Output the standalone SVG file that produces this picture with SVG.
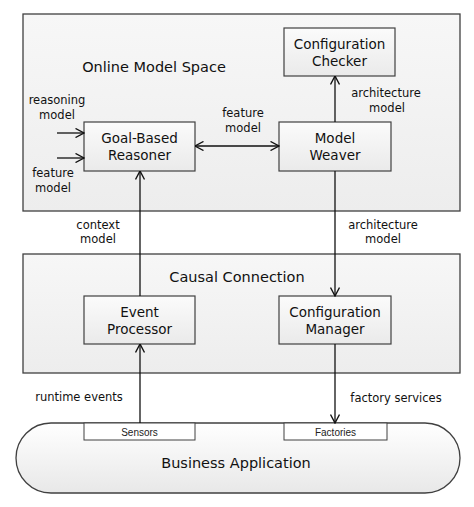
<svg xmlns="http://www.w3.org/2000/svg" width="474" height="507" viewBox="0 0 474 507">
<style>
.frame{stroke:#404040;stroke-width:1.3;fill:url(#gFrame)}
.node{stroke:#404040;stroke-width:1.2;fill:url(#gNode)}
.port{stroke:#404040;stroke-width:1;fill:#ffffff}
.t{font-family:"DejaVu Sans",Verdana,sans-serif;fill:#111;text-anchor:middle}
.title{font-size:14.5px}
.nt{font-size:13.5px}
.lb{font-size:11.5px}
.sm{font-family:"Liberation Sans",Arial,sans-serif;font-size:10px;fill:#222;text-anchor:middle}
.c{stroke:#111;stroke-width:1.3;fill:none}
</style>
<defs>
<linearGradient id="gFrame" x1="0" y1="0" x2="0" y2="1">
<stop offset="0" stop-color="#f7f7f7"/><stop offset="1" stop-color="#ededed"/>
</linearGradient>
<linearGradient id="gNode" x1="0" y1="0" x2="0" y2="1">
<stop offset="0" stop-color="#fbfbfb"/><stop offset="1" stop-color="#eaeaea"/>
</linearGradient>
<linearGradient id="gPill" x1="0" y1="0" x2="0" y2="1">
<stop offset="0" stop-color="#ffffff"/><stop offset="1" stop-color="#e8e8e8"/>
</linearGradient>
<marker id="arr" viewBox="0 0 10 10" refX="9.5" refY="5" markerWidth="10" markerHeight="10" markerUnits="userSpaceOnUse" orient="auto-start-reverse">
<path d="M1,0.5 L9.5,5 L1,9.5" fill="none" stroke="#111" stroke-width="1.4"/>
</marker>
</defs>

<g id="online-model-space">
<rect class="frame" x="23" y="14" width="437" height="197"/>
<text class="t title" x="154" y="72">Online Model Space</text>
</g>

<g id="causal-connection">
<rect class="frame" x="23" y="254" width="437" height="119"/>
<text class="t title" x="237" y="282">Causal Connection</text>
</g>

<g id="business-application">
<rect x="16" y="423" width="444" height="70" rx="35" ry="35" fill="url(#gPill)" stroke="#404040" stroke-width="1.3"/>
<text class="t title" x="236" y="468">Business Application</text>
</g>

<g id="sensors">
<rect class="port" x="84" y="423" width="111" height="17"/>
<text class="sm" x="139.5" y="435.5">Sensors</text>
</g>

<g id="factories">
<rect class="port" x="284" y="423" width="103" height="17"/>
<text class="sm" x="335.5" y="435.5">Factories</text>
</g>

<g id="configuration-checker">
<rect class="node" x="284" y="28" width="111" height="48"/>
<text class="t nt" x="339.5" y="49">Configuration</text>
<text class="t nt" x="339.5" y="66">Checker</text>
</g>

<g id="goal-based-reasoner">
<rect class="node" x="84" y="122" width="111" height="49"/>
<text class="t nt" x="139.5" y="143">Goal-Based</text>
<text class="t nt" x="139.5" y="160">Reasoner</text>
</g>

<g id="model-weaver">
<rect class="node" x="279" y="122" width="112" height="49"/>
<text class="t nt" x="335" y="143">Model</text>
<text class="t nt" x="335" y="160">Weaver</text>
</g>

<g id="event-processor">
<rect class="node" x="84" y="296" width="111" height="48"/>
<text class="t nt" x="139.5" y="317">Event</text>
<text class="t nt" x="139.5" y="334">Processor</text>
</g>

<g id="configuration-manager">
<rect class="node" x="279" y="296" width="112" height="48"/>
<text class="t nt" x="335" y="317">Configuration</text>
<text class="t nt" x="335" y="334">Manager</text>
</g>

<g id="connectors">
<line class="c" x1="57" y1="133" x2="84" y2="133" marker-end="url(#arr)"/>
<line class="c" x1="57" y1="158" x2="84" y2="158" marker-end="url(#arr)"/>
<line class="c" x1="195" y1="146" x2="279" y2="146" marker-start="url(#arr)" marker-end="url(#arr)"/>
<line class="c" x1="335" y1="122" x2="335" y2="76" marker-end="url(#arr)"/>
<line class="c" x1="140" y1="296" x2="140" y2="171" marker-end="url(#arr)"/>
<line class="c" x1="335" y1="171" x2="335" y2="296" marker-end="url(#arr)"/>
<line class="c" x1="140" y1="423" x2="140" y2="344" marker-end="url(#arr)"/>
<line class="c" x1="335" y1="344" x2="335" y2="423" marker-end="url(#arr)"/>

<text class="t lb" x="57" y="104">reasoning</text>
<text class="t lb" x="57" y="119">model</text>
<text class="t lb" x="53" y="177">feature</text>
<text class="t lb" x="53" y="192">model</text>
<text class="t lb" x="243" y="117">feature</text>
<text class="t lb" x="243" y="132">model</text>
<text class="t lb" x="386" y="97">architecture</text>
<text class="t lb" x="387" y="112">model</text>
<text class="t lb" x="98" y="229">context</text>
<text class="t lb" x="98" y="243">model</text>
<text class="t lb" x="383" y="229">architecture</text>
<text class="t lb" x="383" y="243">model</text>
<text class="t lb" x="79" y="401">runtime events</text>
<text class="t lb" x="396" y="402">factory services</text>
</g>
</svg>
